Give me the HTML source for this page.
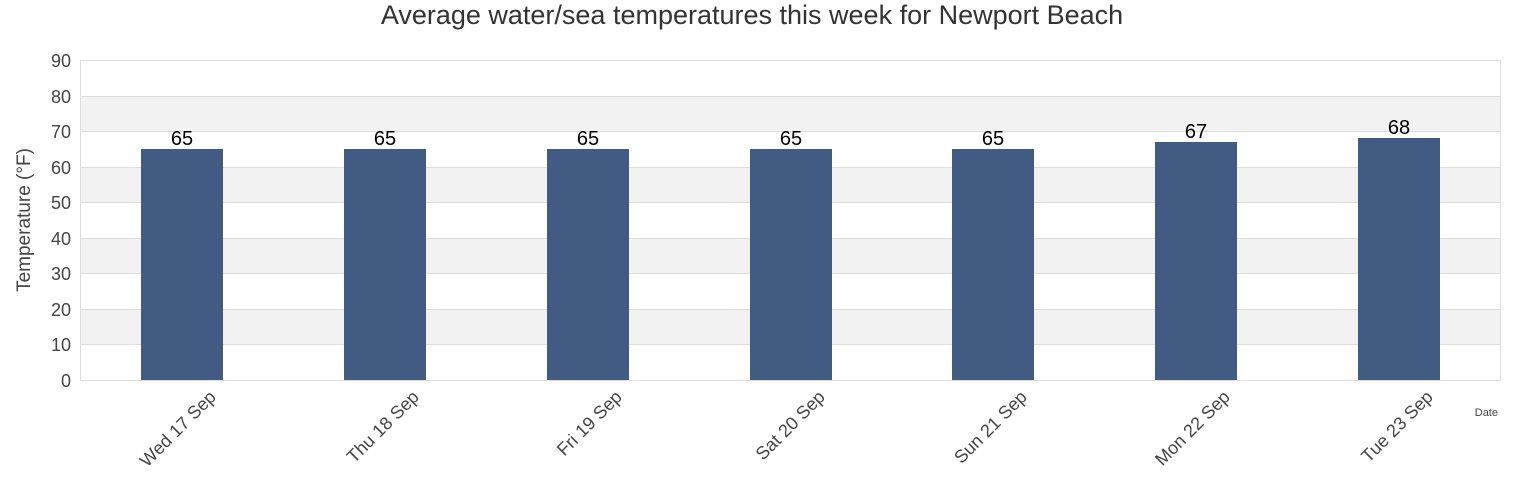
<!DOCTYPE html>
<html><head><meta charset="utf-8"><style>body{margin:0;background:#fff}svg{display:block}text{font-family:"Liberation Sans",Arial,sans-serif}</style></head><body>
<svg width="1540" height="500" xmlns="http://www.w3.org/2000/svg">
<rect width="1540" height="500" fill="#fff"/>
<text x="752" y="24" font-size="27" fill="#333" text-anchor="middle">Average water/sea temperatures this week for Newport Beach</text>
<g fill="#f2f2f2">
<rect x="80" y="96" width="1421" height="35.5"/>
<rect x="80" y="167" width="1421" height="35.5"/>
<rect x="80" y="238" width="1421" height="35.5"/>
<rect x="80" y="309" width="1421" height="35.5"/>
</g>
<g stroke="#ddd" stroke-width="1">
<line x1="80" x2="1501" y1="60.5" y2="60.5"/>
<line x1="80" x2="1501" y1="96.5" y2="96.5"/>
<line x1="80" x2="1501" y1="131.5" y2="131.5"/>
<line x1="80" x2="1501" y1="167.5" y2="167.5"/>
<line x1="80" x2="1501" y1="202.5" y2="202.5"/>
<line x1="80" x2="1501" y1="238.5" y2="238.5"/>
<line x1="80" x2="1501" y1="273.5" y2="273.5"/>
<line x1="80" x2="1501" y1="309.5" y2="309.5"/>
<line x1="80" x2="1501" y1="344.5" y2="344.5"/>
<line x1="80" x2="1501" y1="380.5" y2="380.5"/>
<line x1="80.5" x2="80.5" y1="60" y2="380"/>
<line x1="1500.5" x2="1500.5" y1="60" y2="380"/>
</g>
<g font-size="18" fill="#444" text-anchor="end">
<text x="71" y="67">90</text><text x="71" y="103">80</text><text x="71" y="138">70</text><text x="71" y="174">60</text><text x="71" y="209">50</text><text x="71" y="245">40</text><text x="71" y="280">30</text><text x="71" y="316">20</text><text x="71" y="351">10</text><text x="71" y="387">0</text>
</g>
<text transform="translate(30,220) rotate(-90)" font-size="19" fill="#444" text-anchor="middle">Temperature (°F)</text>
<g fill="#425b82">
<rect x="141" y="149" width="82" height="231"/>
<rect x="344" y="149" width="82" height="231"/>
<rect x="547" y="149" width="82" height="231"/>
<rect x="750" y="149" width="82" height="231"/>
<rect x="952" y="149" width="82" height="231"/>
<rect x="1155" y="142" width="82" height="238"/>
<rect x="1358" y="138" width="82" height="242"/>
</g>
<g font-size="20" fill="#000" text-anchor="middle">
<text x="182" y="145">65</text><text x="385" y="145">65</text><text x="588" y="145">65</text><text x="791" y="145">65</text><text x="993" y="145">65</text><text x="1196" y="138">67</text><text x="1399" y="134">68</text>
</g>
<g font-size="18" fill="#444" text-anchor="end">
<text transform="translate(217,398) rotate(-45)">Wed 17 Sep</text>
<text transform="translate(420,398) rotate(-45)">Thu 18 Sep</text>
<text transform="translate(623,398) rotate(-45)">Fri 19 Sep</text>
<text transform="translate(826,398) rotate(-45)">Sat 20 Sep</text>
<text transform="translate(1028,398) rotate(-45)">Sun 21 Sep</text>
<text transform="translate(1231,398) rotate(-45)">Mon 22 Sep</text>
<text transform="translate(1434,398) rotate(-45)">Tue 23 Sep</text>
</g>
<text x="1498" y="416" font-size="11" fill="#444" text-anchor="end">Date</text>
</svg>
</body></html>
